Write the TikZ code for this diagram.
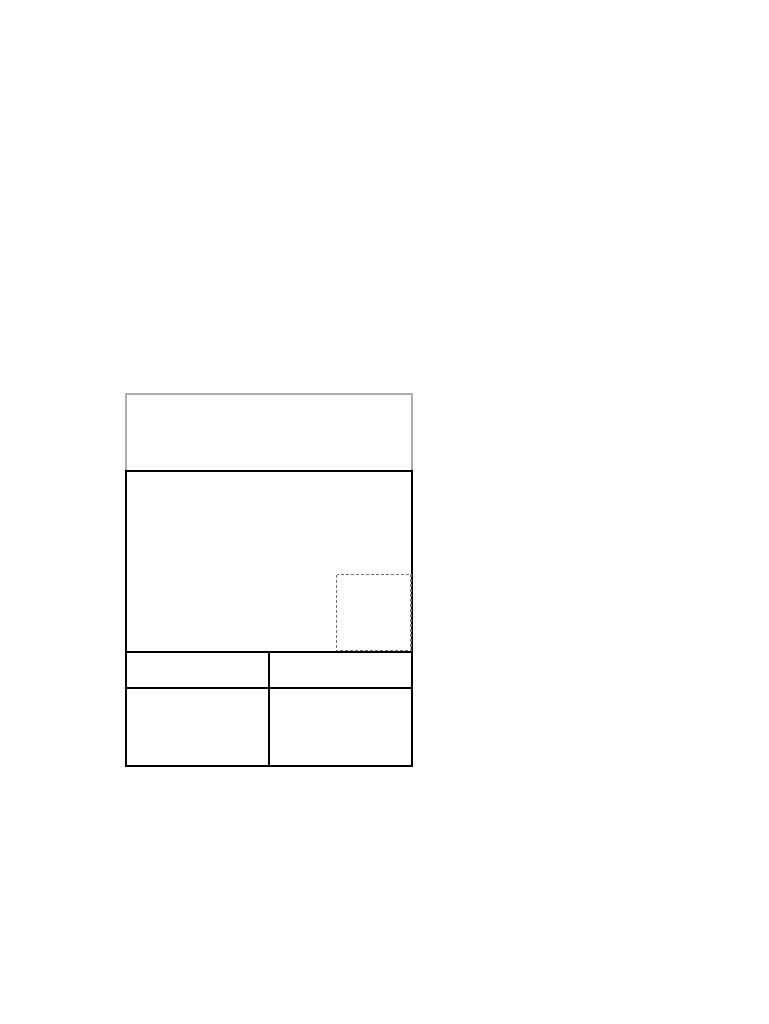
\documentclass[tikz,border=0pt]{standalone}
\begin{document}
\begin{tikzpicture}[x=1pt,y=-1pt,
  blackbox/.style={draw=black,line width=2pt},
  graybox/.style={draw=black!32,line width=2pt},
  dashbox/.style={draw=black!55,line width=1.6pt,dash pattern=on 3pt off 2pt}]
\useasboundingbox (0,0) rectangle (768,1024);
\draw[graybox] (125.5,393.5) rectangle (411.5,470.5);
\draw[blackbox] (125.5,470.5) rectangle (411.5,651.5);
\draw[dashbox] (336.5,574.5) rectangle (411,651);
\draw[blackbox] (125.5,651.5) rectangle (268.5,765.5);
\draw[blackbox] (125.5,687.5) -- (268.5,687.5);
\draw[blackbox] (269,651.5) rectangle (411.5,765.5);
\draw[blackbox] (269,687.5) -- (411.5,687.5);
\end{tikzpicture}
\end{document}
